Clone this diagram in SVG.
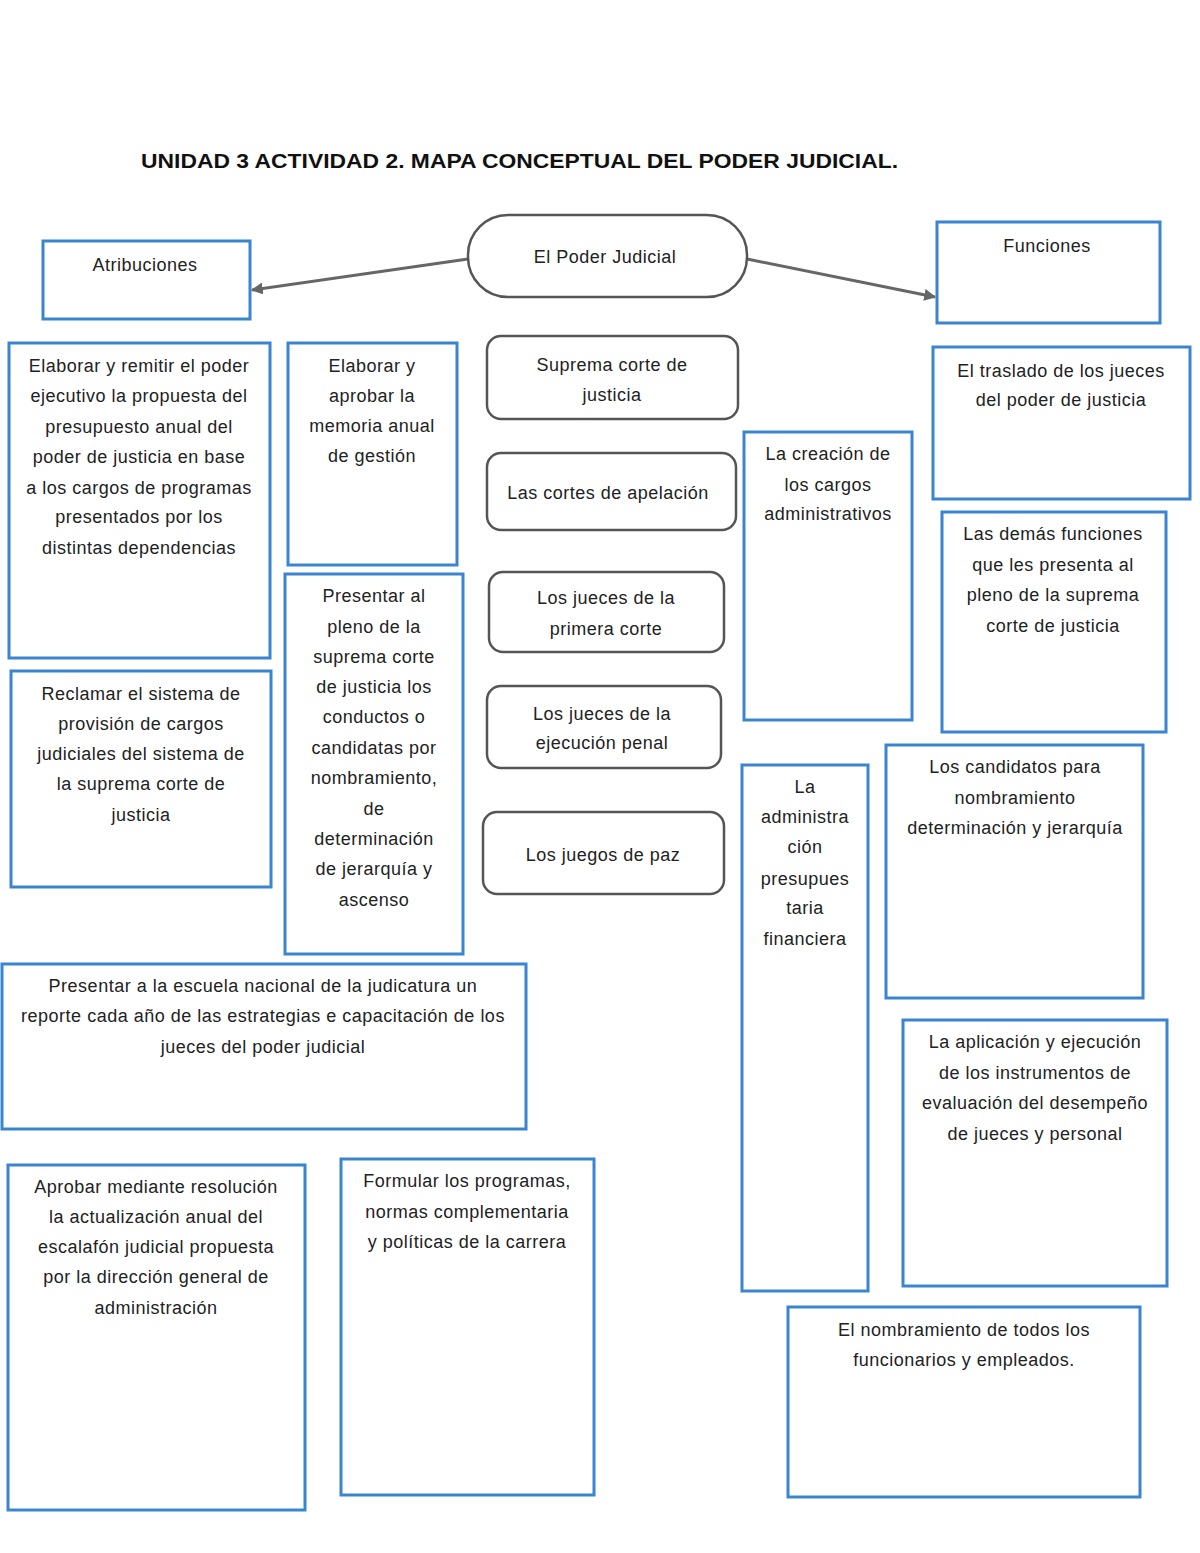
<svg xmlns="http://www.w3.org/2000/svg" width="1200" height="1553" viewBox="0 0 1200 1553">
<defs><style>
.b{fill:none;stroke:#3B84D0;stroke-width:3}
.g{fill:none;stroke:#555;stroke-width:2.5}
text{font-family:"Liberation Sans",Arial,sans-serif;font-size:18px;letter-spacing:0.5px;fill:#222;text-anchor:middle}
.t{font-weight:bold;font-size:21px;letter-spacing:0;text-anchor:start;fill:#111}
.c{stroke:#666;stroke-width:3;fill:none}
</style>
<marker id="a" viewBox="0 0 10 10" refX="9" refY="5" markerWidth="4" markerHeight="4" orient="auto"><path d="M0,0L10,5L0,10z" fill="#666"/></marker>
</defs>
<rect width="1200" height="1553" fill="#fff"/>
<text class="t" x="141" y="168" textLength="757" lengthAdjust="spacingAndGlyphs">UNIDAD 3 ACTIVIDAD 2. MAPA CONCEPTUAL DEL PODER JUDICIAL.</text>
<g id="connectors">
<line class="c" x1="468" y1="259" x2="252" y2="290" marker-end="url(#a)"/>
<line class="c" x1="747" y1="259" x2="935" y2="297" marker-end="url(#a)"/>
</g>
<g id="poder"><rect class="g" x="468" y="215" width="279" height="82" rx="40"/><text x="605" y="263">El Poder Judicial</text></g>
<g id="atribuciones"><rect class="b" x="43" y="241" width="207" height="78"/><text x="145" y="271">Atribuciones</text></g>
<g id="funciones"><rect class="b" x="937" y="222" width="223" height="101"/><text x="1047" y="252">Funciones</text></g>
<g id="a1"><rect class="b" x="9" y="343" width="261" height="315"/>
<text x="139" y="372">Elaborar y remitir el poder</text><text x="139" y="402">ejecutivo la propuesta del</text><text x="139" y="433">presupuesto anual del</text><text x="139" y="463">poder de justicia en base</text><text x="139" y="494">a los cargos de programas</text><text x="139" y="523">presentados por los</text><text x="139" y="554">distintas dependencias</text></g>
<g id="a2"><rect class="b" x="288" y="343" width="169" height="222"/>
<text x="372" y="372">Elaborar y</text><text x="372" y="402">aprobar la</text><text x="372" y="432">memoria anual</text><text x="372" y="462">de gestión</text></g>
<g id="a3"><rect class="b" x="285" y="574" width="178" height="380"/>
<text x="374" y="602">Presentar al</text><text x="374" y="633">pleno de la</text><text x="374" y="663">suprema corte</text><text x="374" y="693">de justicia los</text><text x="374" y="723">conductos o</text><text x="374" y="754">candidatas por</text><text x="374" y="784">nombramiento,</text><text x="374" y="815">de</text><text x="374" y="845">determinación</text><text x="374" y="875">de jerarquía y</text><text x="374" y="906">ascenso</text></g>
<g id="a4"><rect class="b" x="11" y="671" width="260" height="216"/>
<text x="141" y="700">Reclamar el sistema de</text><text x="141" y="730">provisión de cargos</text><text x="141" y="760">judiciales del sistema de</text><text x="141" y="790">la suprema corte de</text><text x="141" y="821">justicia</text></g>
<g id="a5"><rect class="b" x="2" y="964" width="524" height="165"/>
<text x="263" y="992">Presentar a la escuela nacional de la judicatura un</text><text x="263" y="1022">reporte cada año de las estrategias e capacitación de los</text><text x="263" y="1053">jueces del poder judicial</text></g>
<g id="a6"><rect class="b" x="8" y="1165" width="297" height="345"/>
<text x="156" y="1193">Aprobar mediante resolución</text><text x="156" y="1223">la actualización anual del</text><text x="156" y="1253">escalafón judicial propuesta</text><text x="156" y="1283">por la dirección general de</text><text x="156" y="1314">administración</text></g>
<g id="a7"><rect class="b" x="341" y="1159" width="253" height="336"/>
<text x="467" y="1187">Formular los programas,</text><text x="467" y="1218">normas complementaria</text><text x="467" y="1248">y políticas de la carrera</text></g>
<g id="m1"><rect class="g" x="487" y="336" width="251" height="83" rx="14"/><text x="612" y="371">Suprema corte de</text><text x="612" y="401">justicia</text></g>
<g id="m2"><rect class="g" x="487" y="453" width="249" height="77" rx="14"/><text x="608" y="499">Las cortes de apelación</text></g>
<g id="m3"><rect class="g" x="489" y="572" width="235" height="80" rx="14"/><text x="606" y="604">Los jueces de la</text><text x="606" y="635">primera corte</text></g>
<g id="m4"><rect class="g" x="487" y="686" width="234" height="82" rx="14"/><text x="602" y="720">Los jueces de la</text><text x="602" y="749">ejecución penal</text></g>
<g id="m5"><rect class="g" x="483" y="812" width="241" height="82" rx="14"/><text x="603" y="861">Los juegos de paz</text></g>
<g id="f1"><rect class="b" x="744" y="432" width="168" height="288"/>
<text x="828" y="460">La creación de</text><text x="828" y="491">los cargos</text><text x="828" y="520">administrativos</text></g>
<g id="f2"><rect class="b" x="742" y="765" width="126" height="526"/>
<text x="805" y="793">La</text><text x="805" y="823">administra</text><text x="805" y="853">ción</text><text x="805" y="885">presupues</text><text x="805" y="914">taria</text><text x="805" y="945">financiera</text></g>
<g id="f3"><rect class="b" x="933" y="347" width="257" height="152"/>
<text x="1061" y="377">El traslado de los jueces</text><text x="1061" y="406">del poder de justicia</text></g>
<g id="f4"><rect class="b" x="942" y="512" width="224" height="220"/>
<text x="1053" y="540">Las demás funciones</text><text x="1053" y="571">que les presenta al</text><text x="1053" y="601">pleno de la suprema</text><text x="1053" y="632">corte de justicia</text></g>
<g id="f5"><rect class="b" x="886" y="745" width="257" height="253"/>
<text x="1015" y="773">Los candidatos para</text><text x="1015" y="804">nombramiento</text><text x="1015" y="834">determinación y jerarquía</text></g>
<g id="f6"><rect class="b" x="903" y="1020" width="264" height="266"/>
<text x="1035" y="1048">La aplicación y ejecución</text><text x="1035" y="1079">de los instrumentos de</text><text x="1035" y="1109">evaluación del desempeño</text><text x="1035" y="1140">de jueces y personal</text></g>
<g id="f7"><rect class="b" x="788" y="1307" width="352" height="190"/>
<text x="964" y="1336">El nombramiento de todos los</text><text x="964" y="1366">funcionarios y empleados.</text></g>
</svg>
